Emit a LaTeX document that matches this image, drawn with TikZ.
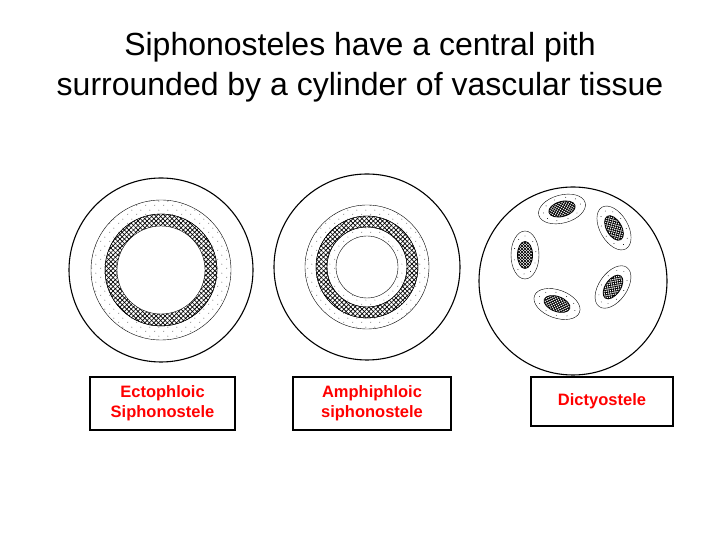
\documentclass[tikz,border=0pt]{standalone}
\usepackage{fontspec}
\setmainfont{Liberation Sans}
\usetikzlibrary{patterns.meta}
\tikzdeclarepattern{name=sdots,type=uncolored,bounding box={(0,0) and (9pt,9pt)},tile size={(9pt,9pt)},
 code={\fill (2pt,2pt) circle (0.45pt); \fill (6.5pt,6.5pt) circle (0.45pt);}}
\tikzset{
 xyl/.style={pattern={Lines[angle=45,distance=3.2pt,line width=0.7pt]},postaction={pattern={Lines[angle=-45,distance=3.2pt,line width=0.7pt]}}},
 phl/.style={pattern=sdots},
 lbl/.style={draw,line width=1.3pt,text=red,font=\bfseries\fontsize{16.5}{20}\selectfont,align=center,inner sep=0pt},
 outl/.style={line width=1.1pt}
}
\begin{document}
\begin{tikzpicture}[x=1pt,y=1pt]
\useasboundingbox (0,0) rectangle (720,540);
\node (title) at (360,473) [align=center,font=\fontsize{32}{40}\selectfont] {Siphonosteles have a central pith\\surrounded by a cylinder of vascular tissue};
% circle 1
\coordinate (c1) at (161,270);
\draw[outl] (c1) circle (92);
\draw[phl] (c1) circle (70);
\draw[fill=white] (c1) circle (56);
\draw[xyl] (c1) circle (56);
\draw[fill=white] (c1) circle (44);
% circle 2
\coordinate (c2) at (367,273);
\draw[outl] (c2) circle (93);
\draw[phl] (c2) circle (62);
\draw[fill=white] (c2) circle (51);
\draw[xyl] (c2) circle (51);
\draw[fill=white] (c2) circle (40);
\draw[phl] (c2) circle (40);
\draw[fill=white] (c2) circle (31);
% circle 3
\coordinate (c3) at (573,259);
\draw[outl] (c3) circle (94);
\foreach \px/\py/\a in {562/331/15,614/312/-60,525/285/90,613/253/55,557/236/-20}{
 \begin{scope}[shift={(\px,\py)},rotate=\a]
 \draw (0,0) ellipse (24 and 14);
 \foreach \t in {0,35,...,340} \fill (\t:19 and 11) circle (0.45);
 \begin{scope}
 \clip (0,0) ellipse (13.5 and 7.5);
 \foreach \k in {-24,-21,...,24} {\draw[line width=0.7pt] (\k-10,-10) -- (\k+10,10); \draw[line width=0.7pt] (\k-10,10) -- (\k+10,-10);}
 \end{scope}
 \draw[line width=0.8pt] (0,0) ellipse (13.5 and 7.5);
 \end{scope}}
\node[lbl,minimum width=145,minimum height=53] (l1) at (162.5,136.5) {Ectophloic\\Siphonostele};
\node[lbl,minimum width=158,minimum height=53] (l2) at (372,136.5) {Amphiphloic\\siphonostele};
\node[lbl,minimum width=142,minimum height=49] (l3) at (602,138.5) {Dictyostele};
\end{tikzpicture}
\end{document}
